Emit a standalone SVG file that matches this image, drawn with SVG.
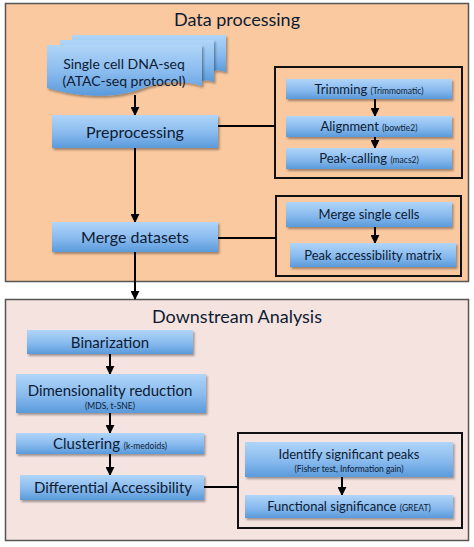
<svg xmlns="http://www.w3.org/2000/svg" width="474" height="547" viewBox="0 0 474 547">
<defs>
<linearGradient id="bg" x1="0" y1="0" x2="0" y2="1">
<stop offset="0" stop-color="#B0D5F8"/>
<stop offset="0.55" stop-color="#88BAEE"/>
<stop offset="1" stop-color="#5A9ADB"/>
</linearGradient>
<filter id="sh" x="-10%" y="-20%" width="130%" height="160%">
<feDropShadow dx="1.5" dy="2" stdDeviation="1.2" flood-color="#000" flood-opacity="0.35"/>
</filter>
<marker id="ah" viewBox="0 0 10 10" refX="9" refY="5" markerWidth="4.5" markerHeight="4.5" orient="auto" markerUnits="strokeWidth">
<path d="M0,0 L10,5 L0,10 Z" fill="#000"/>
</marker>
<style>
.node{fill:url(#bg);filter:url(#sh);}
.t{font-family:"Lato","Liberation Sans",sans-serif;fill:#0D1B33;text-anchor:middle;}
.s{font-size:8.5px;}
.grp{fill:none;stroke:#111;stroke-width:2;}
.c{stroke:#000;stroke-width:2;fill:none;}
.ca{stroke:#000;stroke-width:2;fill:none;marker-end:url(#ah);}
</style>
</defs>

<g id="panel-data">
<rect x="5.5" y="3.5" width="463" height="278" fill="#FAC9A0" stroke="#555" stroke-width="1.5"/>
<text class="t" x="237" y="26" font-size="18">Data processing</text>
</g>
<g id="panel-downstream">
<rect x="5.5" y="299.5" width="463" height="241" fill="#F5E3E0" stroke="#555" stroke-width="1.5"/>
<text class="t" x="237" y="323" font-size="18">Downstream Analysis</text>
</g>

<g id="groups">
<rect class="grp" x="275" y="67" width="187" height="111"/>
<rect class="grp" x="276" y="196" width="185" height="80"/>
<rect class="grp" x="238" y="433" width="224" height="95"/>
</g>

<g id="connectors">
<line class="ca" x1="135" y1="95" x2="135" y2="115"/>
<line class="c" x1="218" y1="126" x2="275" y2="126"/>
<line class="ca" x1="375" y1="99" x2="375" y2="116"/>
<line class="ca" x1="375" y1="137" x2="375" y2="148"/>
<line class="ca" x1="135" y1="148" x2="135" y2="222"/>
<line class="c" x1="218" y1="238" x2="276" y2="238"/>
<line class="ca" x1="375" y1="227" x2="375" y2="243"/>
<line class="ca" x1="135" y1="252" x2="135" y2="299"/>
<line class="ca" x1="110" y1="354" x2="110" y2="374"/>
<line class="ca" x1="110" y1="413" x2="110" y2="433"/>
<line class="ca" x1="110" y1="454" x2="110" y2="475"/>
<line class="c" x1="204" y1="487" x2="238" y2="487"/>
<line class="ca" x1="342" y1="477" x2="342" y2="495"/>
</g>

<g id="n-input">
<path class="node" d="M72,35 H226 V72 C220,70 216,70 214,71 V40 H72 Z"/>
<path class="node" d="M60,40 H214 V82 C209,80 205,80 202,81 V45 H60 Z"/>
<path class="node" d="M47,45 H202 V86 C180,79 160,82 138,90 C112,99 78,97 47,88 Z"/>
<text class="t" x="124" y="69" font-size="14">Single cell DNA-seq</text>
<text class="t" x="124" y="86" font-size="14">(ATAC-seq protocol)</text>
</g>

<g id="n-pre">
<rect class="node" x="52" y="115" width="166" height="33"/>
<text class="t" x="135" y="138" font-size="16">Preprocessing</text>
</g>
<g id="n-trim">
<rect class="node" x="286" y="79" width="166" height="20"/>
<text class="t" x="369" y="94" font-size="13">Trimming <tspan class="s">(Trimmomatic)</tspan></text>
</g>
<g id="n-align">
<rect class="node" x="286" y="116" width="166" height="21"/>
<text class="t" x="369" y="131" font-size="13">Alignment <tspan class="s">(bowtie2)</tspan></text>
</g>
<g id="n-peak">
<rect class="node" x="286" y="148" width="166" height="21"/>
<text class="t" x="369" y="163" font-size="13">Peak-calling <tspan class="s">(macs2)</tspan></text>
</g>

<g id="n-merge">
<rect class="node" x="52" y="222" width="166" height="30"/>
<text class="t" x="135" y="243" font-size="16">Merge datasets</text>
</g>
<g id="n-mergecells">
<rect class="node" x="286" y="202" width="166" height="25"/>
<text class="t" x="369" y="219" font-size="13">Merge single cells</text>
</g>
<g id="n-matrix">
<rect class="node" x="290" y="243" width="166" height="24"/>
<text class="t" x="373" y="260" font-size="13">Peak accessibility matrix</text>
</g>

<g id="n-bin">
<rect class="node" x="27" y="330" width="166" height="24"/>
<text class="t" x="110" y="348" font-size="15">Binarization</text>
</g>
<g id="n-dim">
<rect class="node" x="16" y="374" width="190" height="39"/>
<text class="t" x="110" y="396" font-size="15">Dimensionality reduction</text>
<text class="t s" x="110" y="409">(MDS, t-SNE)</text>
</g>
<g id="n-clust">
<rect class="node" x="16" y="433" width="188" height="21"/>
<text class="t" x="110" y="449" font-size="15">Clustering <tspan class="s">(k-medoids)</tspan></text>
</g>
<g id="n-diff">
<rect class="node" x="20" y="475" width="184" height="25"/>
<text class="t" x="113" y="493" font-size="15">Differential Accessibility</text>
</g>
<g id="n-ident">
<rect class="node" x="245" y="442" width="208" height="35"/>
<text class="t" x="349" y="459" font-size="13">Identify significant peaks</text>
<text class="t s" x="349" y="472">(Fisher test, Information gain)</text>
</g>
<g id="n-func">
<rect class="node" x="245" y="495" width="208" height="23"/>
<text class="t" x="349" y="511" font-size="13">Functional significance <tspan class="s">(GREAT)</tspan></text>
</g>
</svg>
